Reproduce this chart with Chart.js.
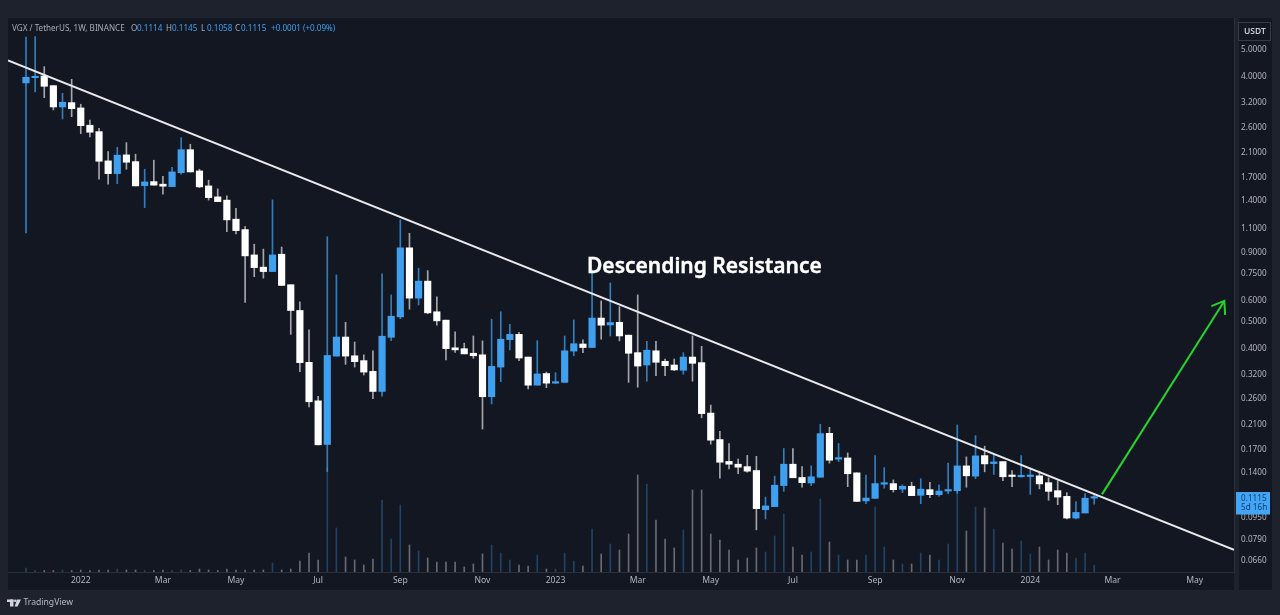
<!DOCTYPE html>
<html>
<head>
<meta charset="utf-8">
<title>VGX / TetherUS</title>
<script src="https://cdn.jsdelivr.net/npm/chart.js@4/dist/chart.umd.js"></script>
<style>
    html, body { margin: 0; padding: 0; background: #1e222d; }
    canvas { display: block; }
</style>
</head>
<body>
<canvas id="priceChart" width="1280" height="615"></canvas>
<script>
// weekly candles, oldest first
const opens = [3.75, 3.92, 3.979, 3.665, 3.06, 3.174, 3.035, 2.621, 2.483, 1.938,
    1.74, 2.039, 1.926, 1.572, 1.626, 1.591, 1.559, 1.754, 2.131, 1.78,
    1.568, 1.429, 1.39, 1.183, 1.083, .874, .788, .759, .879, .679,
    .546, .352, .254, .1755, .371, .436, .372, .357, .326, .275,
    .435, .517, .928, .606, .7, .54, .503, .398, .395, .38,
    .375, .263, .338, .4265, .446, .368, .29, .32, .295, .297,
    .387, .411, .399, .512, .483, .494, .443, .382, .344, .388,
    .355, .344, .329, .368, .351, .229, .183, .152, .1485, .1455,
    .1408, .101, .1037, .1239, .1485, .1327, .1267, .133, .1929, .155,
    .1566, .138, .1088, .1112, .1254, .126, .1202, .1232, .1141, .1197,
    .1147, .1183, .1187, .1464, .1342, .1597, .1493, .1518, .1346, .1335,
    .1338, .1346, .127, .1187, .1131, .0941, .0982, .1114];
const highs = [5.53, 5.55, 4.305, 3.665, 3.437, 3.869, 3.131, 2.741, 2.555, 2.097,
    2.175, 2.262, 2.051, 1.806, 1.949, 1.702, 1.837, 2.36, 2.231, 1.806,
    1.646, 1.529, 1.441, 1.298, 1.111, .957, .918, 1.393, .934, .679,
    .588, .463, .264, 1.02, .738, .494, .418, .375, .388, .744,
    .623, 1.176, 1.05, .781, .765, .613, .503, .456, .414, .44,
    .422, .507, .54, .486, .454, .368, .423, .324, .3225, .44,
    .504, .426, .77, .592, .689, .564, .443, .623, .42, .42,
    .362, .362, .382, .44, .403, .245, .196, .177, .155, .16,
    .1587, .1124, .1342, .1696, .1696, .1455, .1464, .2083, .203, .177,
    .1634, .138, .1353, .1597, .1443, .13, .1246, .1275, .1313, .1275,
    .1246, .1498, .207, .158, .1891, .173, .161, .1518, .1408, .1597,
    .1434, .14, .1324, .1292, .1167, .1081, .1157, .1145];
const lows = [1.053, 3.475, 3.311, 2.984, 2.765, 2.819, 2.441, 2.374, 1.659, 1.591,
    1.599, 1.806, 1.568, 1.305, 1.578, 1.462, 1.559, 1.731, 1.765, 1.546,
    1.39, 1.373, 1.065, 1.044, .585, .727, .718, .759, .675, .446,
    .325, .241, .175, .1396, .371, .346, .338, .316, .2585, .264,
    .423, .509, .552, .572, .531, .482, .359, .383, .378, .364,
    .2, .2475, .2987, .391, .357, .281, .29, .284, .2935, .297,
    .372, .382, .399, .428, .44, .422, .297, .285, .3, .314,
    .314, .328, .318, .3, .22, .176, .132, .1427, .137, .1388,
    .0852, .0934, .1037, .118, .1324, .1222, .1239, .133, .1498, .1518,
    .1228, .1084, .1063, .1112, .1212, .1173, .1167, .1138, .1063, .1119,
    .1134, .1157, .116, .1222, .1313, .1392, .1361, .1292, .1228, .133,
    .115, .1205, .1094, .1054, .0934, .0934, .0982, .1058];
const closes = [3.935, 3.955, 3.646, 3.06, 3.184, 3.016, 2.612, 2.47, 1.932, 1.74,
    2.034, 1.916, 1.568, 1.622, 1.578, 1.564, 1.765, 2.131, 1.765, 1.555,
    1.42, 1.373, 1.176, 1.074, .867, .785, .759, .874, .675, .546,
    .351, .252, .175, .373, .436, .371, .354, .324, .275, .439,
    .52, .928, .606, .7, .535, .5, .395, .391, .378, .372,
    .263, .34, .428, .446, .365, .29, .319, .295, .298, .388,
    .412, .399, .512, .482, .493, .44, .38, .341, .39, .352,
    .342, .33, .368, .349, .228, .182, .151, .1485, .1448, .14,
    .1019, .1043, .1243, .1485, .1324, .127, .1335, .1924, .1536, .157,
    .137, .1084, .1115, .126, .1264, .1197, .1232, .1138, .1202, .1147,
    .1183, .1197, .1464, .1346, .1593, .1489, .1514, .1335, .1338, .1346,
    .1346, .1257, .118, .1124, .0941, .0987, .1114, .1115];
const volumes = [4, 1.5, 1.5, 1.5, 2, 1.5, 2, 1.5, 2, 2,
    3, 2, 2, 1.5, 1.5, 2, 1.5, 2, 1.5, 3,
    2, 1.5, 3, 2, 2, 2, 2, 9, 2, 3,
    11, 19, 12, 104, 44, 15, 12, 7, 13, 72,
    33, 67, 27, 21, 14, 10, 10, 10, 5, 8,
    18, 27, 19, 12, 7, 6, 17, 3, 3, 19,
    11, 6, 43, 18, 28, 22, 38, 97, 88, 52,
    33, 24, 42, 82, 82, 38, 32, 22, 12, 14,
    24, 20, 36, 58, 25, 17, 20, 73, 30, 17,
    12, 12, 17, 65, 25, 12, 8, 8, 19, 17,
    12, 28, 90, 41, 65, 64, 43, 29, 23, 31,
    18, 25, 12, 22, 19, 14, 19, 7];

const priceTicks = [5, 4, 3.2, 2.6, 2.1, 1.7, 1.4, 1.1, 0.9, 0.75, 0.6, 0.5, 0.4, 0.32, 0.26, 0.21, 0.17, 0.14, 0.095, 0.079, 0.066];
const weekTicks = [6, 15, 23, 32, 41, 50, 58, 67, 75, 84, 93, 102, 110, 119, 128];
const weekLabels = ['2022', 'Mar', 'May', 'Jul', 'Sep', 'Nov', '2023', 'Mar', 'May', 'Jul', 'Sep', 'Nov', '2024', 'Mar', 'May'];

// drawn lines, as week index and price
const resistanceWeeks = [-1.97, 132.31];
const resistancePrices = [4.54, 0.0719];
const arrowWeeks = [117.85, 131.25];
const arrowPrices = [0.115, 0.592];

const UP = '#3fa0f0';
const DOWN = '#ffffff';
const FONT = '"Noto Sans", sans-serif';

const isUp = i => closes[i] >= opens[i];
const weeks = opens.map((_, i) => i);

const frame = {
    id: 'frame',
    beforeDraw(chart) {
        const { ctx, chartArea: a } = chart;
        ctx.save();
        ctx.fillStyle = '#1e222d';
        ctx.fillRect(0, 0, 1280, 615);
        ctx.fillStyle = '#131722';
        ctx.fillRect(a.left, a.top, a.right - a.left, 590 - a.top);
        ctx.fillRect(1239, a.top, 33, 590 - a.top);
        ctx.strokeStyle = '#2a2e39';
        ctx.beginPath();
        ctx.moveTo(a.left, a.bottom + 0.5);
        ctx.lineTo(a.right, a.bottom + 0.5);
        ctx.stroke();
        ctx.restore();
    }
};

const overlay = {
    id: 'overlay',
    afterDatasetsDraw(chart) {
        const { ctx, scales } = chart;
        ctx.save();

        // arrow head on the green line
        const tipX = scales.x.getPixelForValue(arrowWeeks[1]);
        const tipY = scales.y.getPixelForValue(arrowPrices[1]);
        const tailX = scales.x.getPixelForValue(arrowWeeks[0]);
        const tailY = scales.y.getPixelForValue(arrowPrices[0]);
        const angle = Math.atan2(tipY - tailY, tipX - tailX);
        ctx.strokeStyle = '#25d52b';
        ctx.lineWidth = 2;
        ctx.beginPath();
        ctx.moveTo(tipX - 14 * Math.cos(angle - 0.62), tipY - 14 * Math.sin(angle - 0.62));
        ctx.lineTo(tipX, tipY);
        ctx.lineTo(tipX - 14 * Math.cos(angle + 0.62), tipY - 14 * Math.sin(angle + 0.62));
        ctx.stroke();

        ctx.fillStyle = '#ffffff';
        ctx.strokeStyle = '#ffffff';
        ctx.lineWidth = 0.4;
        ctx.font = '600 21px ' + FONT;
        ctx.textBaseline = 'middle';
        ctx.fillText('Descending Resistance', 587, 267);
        ctx.strokeText('Descending Resistance', 587, 267);

        // symbol line
        ctx.font = '8.1px ' + FONT;
        ctx.fillStyle = '#a6abb7';
        ctx.fillText('VGX / TetherUS, 1W, BINANCE', 12, 29);
        const parts = [['O', 131], ['H', 166], ['L', 201], ['C', 235]];
        const values = [opens, highs, lows, closes].map(s => s[s.length - 1].toFixed(4));
        parts.forEach((p, i) => {
            ctx.fillStyle = '#a6abb7';
            ctx.fillText(p[0], p[1], 29);
            ctx.fillStyle = UP;
            ctx.fillText(values[i], p[1] + 6, 29);
        });
        ctx.fillText('+0.0001', 271, 29);
        ctx.fillText('(+0.09%)', 303, 29);
        ctx.restore();
    },
    afterDraw(chart) {
        const { ctx, scales } = chart;
        ctx.save();

        // last price tag
        const last = closes[closes.length - 1];
        const y = scales.y.getPixelForValue(last);
        ctx.fillStyle = '#42a5f5';
        ctx.fillRect(1236, y - 6, 34, 22.5);
        ctx.fillStyle = '#123f6b';
        ctx.font = '8.2px ' + FONT;
        ctx.textBaseline = 'middle';
        ctx.fillText(last.toFixed(4), 1241, y + 0.5);
        ctx.fillText('5d 16h', 1241, y + 10);

        // currency box
        ctx.strokeStyle = '#363a45';
        ctx.strokeRect(1238.5, 22.5, 32, 18);
        ctx.fillStyle = '#c9ccd6';
        ctx.font = '600 8.5px ' + FONT;
        ctx.fillText('USDT', 1244, 32);

        // footer mark
        ctx.fillStyle = '#d1d4dc';
        ctx.fillRect(7, 599.5, 6.5, 2.5);
        ctx.fillRect(10, 599.5, 3.5, 7);
        ctx.beginPath();
        ctx.arc(15.3, 600.8, 1.3, 0, Math.PI * 2);
        ctx.fill();
        ctx.beginPath();
        ctx.moveTo(17, 599.5);
        ctx.lineTo(21, 599.5);
        ctx.lineTo(17.6, 606.5);
        ctx.lineTo(14.6, 606.5);
        ctx.closePath();
        ctx.fill();
        ctx.font = '8.6px ' + FONT;
        ctx.fillStyle = '#b8bbc5';
        ctx.fillText('TradingView', 23.5, 603);
        ctx.restore();
    }
};

new Chart(document.getElementById('priceChart').getContext('2d'), {
    data: {
        datasets: [
            {
                type: 'line',
                data: resistanceWeeks.map((w, i) => ({ x: w, y: resistancePrices[i] })),
                borderColor: '#e9e9ec',
                borderWidth: 2,
                pointRadius: 0,
                order: 1
            },
            {
                type: 'line',
                data: arrowWeeks.map((w, i) => ({ x: w, y: arrowPrices[i] })),
                borderColor: '#25d52b',
                borderWidth: 2,
                pointRadius: 0,
                order: 1
            },
            {
                type: 'bar',
                data: weeks.map(i => ({ x: i, y: [Math.min(opens[i], closes[i]), Math.max(opens[i], closes[i])] })),
                backgroundColor: weeks.map(i => isUp(i) ? UP : DOWN),
                barThickness: 6.5,
                minBarLength: 1.5,
                grouped: false,
                order: 2
            },
            {
                type: 'bar',
                data: weeks.map(i => ({ x: i, y: [lows[i], highs[i]] })),
                backgroundColor: weeks.map(i => isUp(i) ? 'rgba(63, 160, 240, 0.75)' : 'rgba(255, 255, 255, 0.62)'),
                barThickness: 1,
                grouped: false,
                order: 3
            },
            {
                type: 'bar',
                yAxisID: 'volume',
                data: weeks.map(i => ({ x: i, y: volumes[i] })),
                backgroundColor: weeks.map(i => isUp(i) ? 'rgba(63, 160, 240, 0.32)' : 'rgba(255, 255, 255, 0.36)'),
                barThickness: 1,
                grouped: false,
                order: 4
            }
        ]
    },
    options: {
        responsive: false,
        animation: false,
        events: [],
        layout: { padding: { left: 8, top: 18, right: 8, bottom: 25 } },
        plugins: {
            legend: { display: false },
            tooltip: { enabled: false }
        },
        scales: {
            x: {
                type: 'linear',
                offset: false,
                bounds: 'data',
                min: -1.97,
                max: 132.31,
                grid: { display: false, drawTicks: false },
                border: { display: false },
                afterBuildTicks(scale) { scale.ticks = weekTicks.map(v => ({ value: v })); },
                afterFit(scale) { scale.height = 18; },
                ticks: {
                    autoSkip: false,
                    maxRotation: 0,
                    padding: 3,
                    font: { size: 8.6, family: FONT },
                    color: '#b2b5be',
                    callback: v => weekLabels[weekTicks.indexOf(v)]
                }
            },
            y: {
                type: 'logarithmic',
                position: 'right',
                bounds: 'data',
                min: 0.0596,
                max: 6.5,
                grid: { display: false, drawTicks: false },
                border: { display: true, color: '#2a2e39' },
                afterBuildTicks(scale) { scale.ticks = priceTicks.map(v => ({ value: v })); },
                afterFit(scale) { scale.width = 38; },
                ticks: {
                    padding: 7,
                    labelOffset: 1,
                    font: { size: 8.2, family: FONT },
                    color: '#b2b5be',
                    callback: v => v.toFixed(4)
                }
            },
            volume: {
                type: 'linear',
                display: false,
                bounds: 'data',
                min: 0,
                max: 554
            }
        }
    },
    plugins: [frame, overlay]
});
</script>
</body>
</html>
